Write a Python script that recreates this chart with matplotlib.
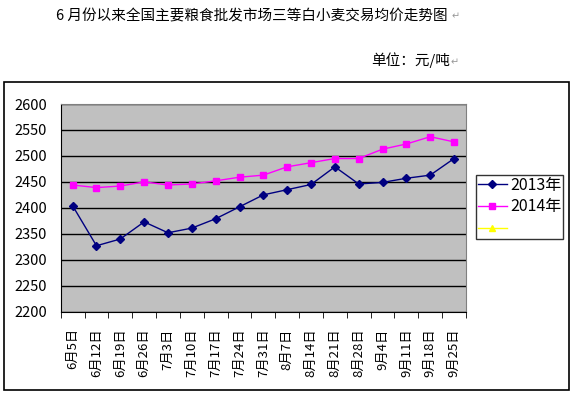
import matplotlib.pyplot as plt
import numpy as np
from matplotlib.patches import Rectangle
from matplotlib.lines import Line2D

plt.rcParams['font.family'] = ['Noto Sans CJK SC', 'DejaVu Sans']

dates = ['6月5日', '6月12日', '6月19日', '6月26日', '7月3日', '7月10日', '7月17日',
         '7月24日', '7月31日', '8月7日', '8月14日', '8月21日', '8月28日', '9月4日',
         '9月11日', '9月18日', '9月25日']
price_2013 = [2404, 2327, 2340, 2373, 2352, 2361, 2379, 2402, 2425, 2435, 2445,
              2479, 2446, 2449, 2457, 2463, 2495]
price_2014 = [2444, 2439, 2442, 2450, 2444, 2446, 2452, 2459, 2463, 2479, 2487,
              2495, 2495, 2513, 2523, 2537, 2527]
y_ticks = [2200, 2250, 2300, 2350, 2400, 2450, 2500, 2550, 2600]

fig = plt.figure(figsize=(5.74, 3.96), dpi=100)
W, H = 574, 396

# outer chart frame
fig.patches.append(Rectangle((4 / W, 1 - 390 / H), 565 / W, 308 / H,
                             transform=fig.transFigure, fill=False,
                             edgecolor='black', linewidth=1.2))

fig.text(252 / W, 1 - 16 / H, '6 月份以来全国主要粮食批发市场三等白小麦交易均价走势图',
         ha='center', va='center', fontsize=10.5)
fig.text(452 / W, 1 - 16 / H, '↵', ha='left', va='center', fontsize=7, color='#999999')
fig.text(450 / W, 1 - 60 / H, '单位：元/吨', ha='right', va='center', fontsize=10.5)
fig.text(451 / W, 1 - 62 / H, '↵', ha='left', va='center', fontsize=7, color='#999999')

ax = fig.add_axes([60.7 / W, 1 - 311.7 / H, 405.3 / W, 207.7 / H])
ax.set_facecolor('#C0C0C0')
x = np.arange(len(dates))
ax.plot(x, price_2013, color='#000080', marker='D', markersize=4, linewidth=1, zorder=3)
ax.plot(x, price_2014, color='#FF00FF', marker='s', markersize=5, linewidth=1, zorder=3)

ax.set_ylim(2200, 2600)
ax.set_yticks(y_ticks)
ax.yaxis.grid(True, color='black', linewidth=1)
ax.set_axisbelow(True)
ax.tick_params(axis='y', length=0, pad=10, labelsize=10.5)

ax.set_xlim(-0.5, len(dates) - 0.5)
ax.set_xticks(x)
ax.set_xticklabels(dates, rotation=90, fontsize=9.5, va='top')
ax.tick_params(axis='x', length=0, pad=12)
ax.set_xticks(np.arange(-0.5, len(dates)), minor=True)
ax.tick_params(axis='x', which='minor', length=4, direction='out', color='black')

for s in ['top', 'right']:
    ax.spines[s].set_color('#808080')
for s in ['left', 'bottom']:
    ax.spines[s].set_color('black')

# legend, third entry has no label in the original
handles = [Line2D([], [], color='#000080', marker='D', markersize=4, linewidth=1),
           Line2D([], [], color='#FF00FF', marker='s', markersize=5, linewidth=1),
           Line2D([], [], color='#FFFF00', marker='^', markersize=5, linewidth=1)]
leg = fig.legend(handles, ['2013年', '2014年', ''], loc='upper left',
                 bbox_to_anchor=(476 / W, 1 - 175 / H), fontsize=11.5,
                 frameon=True, fancybox=False, edgecolor='black',
                 handlelength=1.85, handletextpad=0.2, borderpad=0.1,
                 labelspacing=0.3, borderaxespad=0)
leg.get_frame().set_linewidth(1)

fig.savefig('out.png', dpi=100)
